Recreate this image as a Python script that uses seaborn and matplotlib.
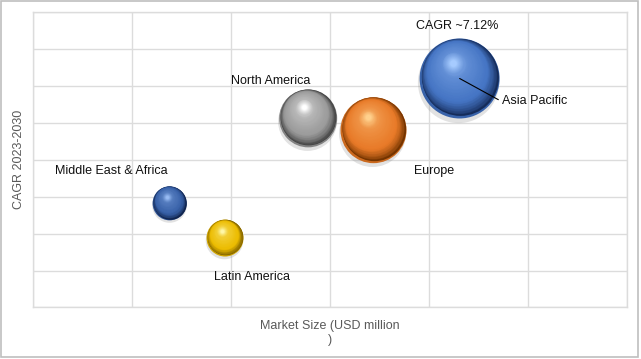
import numpy as np
import pandas as pd
import matplotlib
matplotlib.use("Agg")
import matplotlib.pyplot as plt
import matplotlib.transforms as mtransforms
from matplotlib.colors import to_rgb
from matplotlib.patches import Rectangle
import seaborn as sns

# --- data ---
regions = ["North America", "Europe", "Asia Pacific", "Middle East & Africa", "Latin America"]
market_size = [2.78, 3.44, 4.31, 1.38, 1.94]
cagr = [5.12, 4.80, 6.20, 2.82, 1.88]
bubble = [1743, 2258, 3318, 600, 708]

# sphere colours: (dark, mid, highlight)
shades = {
    "North America": ("#3e3e3e", "#9a9a9a", "#ffffff"),
    "Europe": ("#743400", "#e87a28", "#ffd08c"),
    "Asia Pacific": ("#152c5a", "#4575c4", "#a6cbff"),
    "Middle East & Africa": ("#11254f", "#3861a8", "#98bcf4"),
    "Latin America": ("#745800", "#ecbc00", "#fff8a8"),
}

# label offsets in pixels from bubble centre
label_offsets = {
    "North America": (-37, 37),
    "Europe": (61, -41),
    "Middle East & Africa": (-58, 32),
    "Latin America": (27, -39),
}

df = pd.DataFrame({"region": regions, "market_size": market_size,
                   "cagr": cagr, "bubble": bubble})

sns.set_style("white")
plt.rcParams["font.family"] = ["Liberation Sans", "DejaVu Sans"]

fig = plt.figure(figsize=(6.41, 3.59), dpi=100)
ax = fig.add_axes([0.0515, 0.1435, 0.9265, 0.8231])


def mix(c1, c2, t):
    a, b = np.array(to_rgb(c1)), np.array(to_rgb(c2))
    return tuple(a + (b - a) * t)


def shifted(dx, dy):
    return mtransforms.offset_copy(ax.transData, fig=fig, x=dx, y=dy, units="points")


# soft shadow
for _, row in df.iterrows():
    r_pt = np.sqrt(row.bubble) / 2
    ax.scatter(row.market_size, row.cagr, s=row.bubble * 1.03, color="#8c8c8c",
               alpha=0.25, lw=0, transform=shifted(-r_pt * 0.04, -r_pt * 0.08), zorder=2)

# base spheres (slightly lighter reflection rim seen at the bottom)
sns.scatterplot(data=df, x="market_size", y="cagr", size="bubble",
                sizes=(min(bubble), max(bubble)), hue="region",
                palette={k: mix(v[0], v[1], 0.75) for k, v in shades.items()},
                linewidth=0, legend=False, ax=ax, zorder=3)

# gradient layers toward an upper-left highlight
n_layers = 50
ux, uy = -0.38, 0.92
for _, row in df.iterrows():
    dark, mid, light = shades[row.region]
    r_pt = np.sqrt(row.bubble) / 2
    for k in range(n_layers):
        t = k / (n_layers - 1)
        frac = 0.96 - 0.88 * t
        d = 0.04 + 0.38 * (1 - (1 - t) ** 2)
        if t < 0.22:
            col = mix(dark, mid, (t / 0.22) ** 0.7)
        elif t < 0.72:
            col = mix(mid, mix(mid, light, 0.3), (t - 0.22) / 0.5)
        else:
            col = mix(mix(mid, light, 0.3), light, ((t - 0.72) / 0.28) ** 1.2)
        ax.scatter(row.market_size, row.cagr, s=row.bubble * frac ** 2, color=col,
                   lw=0, transform=shifted(ux * d * r_pt * (t > 0), 0.04 * r_pt + uy * (d - 0.04) * r_pt),
                   zorder=4 + k * 0.01)

# labels
for _, row in df.iterrows():
    if row.region in label_offsets:
        ax.annotate(row.region, (row.market_size, row.cagr), xytext=label_offsets[row.region],
                    textcoords="offset pixels", ha="center", va="center",
                    fontsize=9, color="#111111", zorder=6)

ap = df[df.region == "Asia Pacific"].iloc[0]
ax.annotate("Asia Pacific", (ap.market_size, ap.cagr), xytext=(42, -23),
            textcoords="offset pixels", ha="left", va="center", fontsize=9,
            color="#111111", zorder=6,
            arrowprops=dict(arrowstyle="-", color="black", lw=0.8,
                            shrinkA=0, shrinkB=0, relpos=(0, 0.5)))
ax.annotate("CAGR ~7.12%", (ap.market_size, ap.cagr), xytext=(-2, 52),
            textcoords="offset pixels", ha="center", va="center", fontsize=9,
            color="#111111", zorder=6)

# axes styling
ax.set_xlim(0, 6)
ax.set_ylim(0, 8)
ax.set_xticks(range(0, 7))
ax.set_yticks(range(0, 9))
ax.tick_params(length=0, labelbottom=False, labelleft=False)
ax.grid(True, color="#dcdcdc", lw=1)
for sp in ax.spines.values():
    sp.set_color("#dcdcdc")
    sp.set_linewidth(1)
ax.set_xlabel("Market Size (USD million\n)", fontsize=9, color="#595959", labelpad=9,
              linespacing=1.2)
ax.set_ylabel("CAGR 2023-2030", fontsize=9, color="#595959", labelpad=6)

# chart frame
fig.patches.append(Rectangle((0.002, 0.006), 0.994, 0.99, transform=fig.transFigure,
                             fill=False, edgecolor="#bfbfbf", lw=1.2))

fig.savefig("out.png", dpi=100)
